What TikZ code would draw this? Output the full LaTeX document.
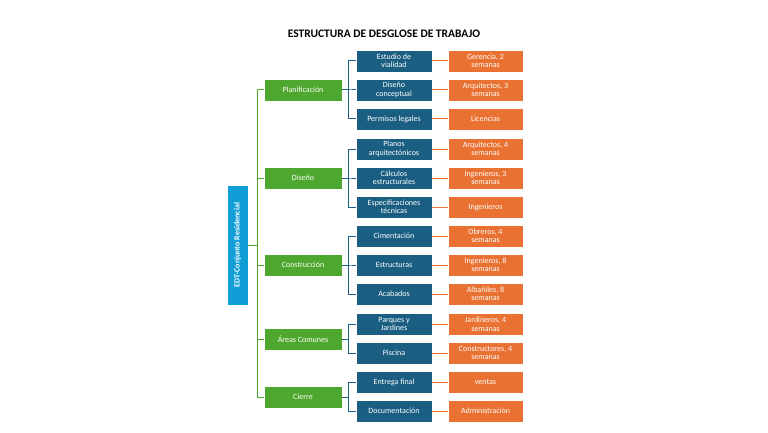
\documentclass[tikz,border=0pt]{standalone}
\usepackage{fontspec}
\setmainfont{Carlito}
\definecolor{gr}{HTML}{4EA72E}
\definecolor{bl}{HTML}{1A5E82}
\definecolor{org}{HTML}{E97132}
\definecolor{rt}{HTML}{0F9ED5}
\begin{document}
\begin{tikzpicture}[x=1pt,y=-1pt,
 base/.style={draw=white,line width=0.6pt,text=white,align=center,inner sep=1pt,font=\fontsize{8}{8.5}\selectfont},
 g/.style={base,fill=gr,minimum width=78pt,minimum height=22pt},
 b/.style={base,fill=bl,minimum width=76pt,minimum height=22pt},
 o/.style={base,fill=org,minimum width=75pt,minimum height=22pt},
 gl/.style={draw=gr,line width=1pt},
 bline/.style={draw=bl,line width=1pt},
 ol/.style={draw=org,line width=1pt}]
\useasboundingbox (0,0) rectangle (768,433);
\node[font=\bfseries\fontsize{11.5}{12}\selectfont] (t) at (384,34) {ESTRUCTURA DE DESGLOSE DE TRABAJO};
\node[base,fill=rt,minimum width=120pt,minimum height=21pt,rotate=90,font=\bfseries\fontsize{8}{8.5}\selectfont] (r) at (237.5,245) {EDT-Conjunto Residencial};
\coordinate (tr) at (257,245);
\draw[gl] (r.south) -- (tr);
\foreach \n/\y/\t in {g1/90/Planificación,g2/178/Diseño,g3/265/Construcción,g4/339/Áreas Comunes,g5/397/Cierre}{
 \node[g] (\n) at (303,\y) {\t};
 \coordinate (\n t) at (257,\y);
 \draw[gl] (\n t) -- (\n.west);
}
\draw[gl] (g1t) -- (g5t);
\foreach \i/\y/\p/\bt/\ot in {
 1/61/g1/{Estudio de\\vialidad}/{Gerencia, 2\\semanas},
 2/90/g1/{Diseño\\conceptual}/{Arquitectos, 3\\semanas},
 3/119/g1/{Permisos legales}/{Licencias},
 4/149/g2/{Planos\\arquitectónicos}/{Arquitectos, 4\\semanas},
 5/178/g2/{Cálculos\\estructurales}/{Ingenieros, 3\\semanas},
 6/207/g2/{Especificaciones\\técnicas}/{Ingenieros},
 7/236/g3/{Cimentación}/{Obreros, 4\\semanas},
 8/265/g3/{Estructuras}/{Ingenieros, 8\\semanas},
 9/294/g3/{Acabados}/{Albañiles, 8\\semanas},
 10/324/g4/{Parques y\\Jardines}/{Jardineros, 4\\semanas},
 11/353/g4/{Piscina}/{Constructores, 4\\semanas},
 12/382/g5/{Entrega final}/{ventas},
 13/411/g5/{Documentación}/{Administración}}{
 \node[b] (b\i) at (394,\y) {\bt};
 \node[o] (o\i) at (485.5,\y) {\ot};
 \draw[bline] (\p.east) -- ++(6,0) |- (b\i.west);
 \draw[ol] (b\i.east) -- (o\i.west);
}
\end{tikzpicture}
\end{document}
